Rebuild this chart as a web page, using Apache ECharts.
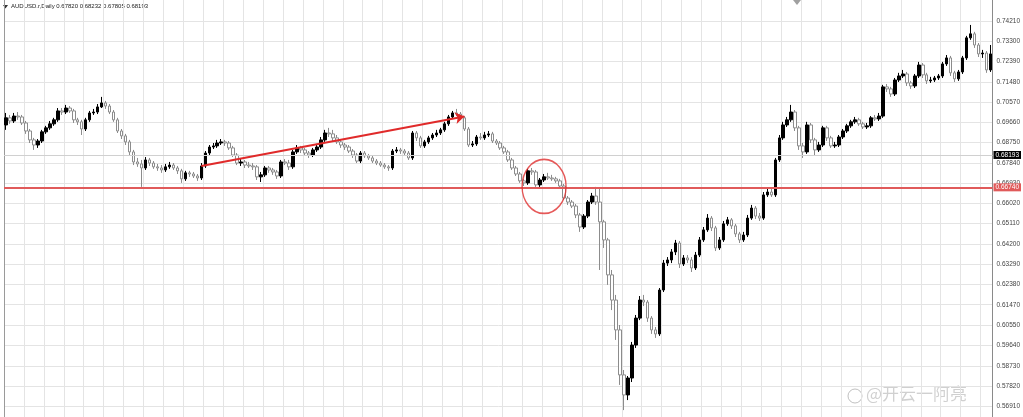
<!DOCTYPE html>
<html><head><meta charset="utf-8">
<script src="https://cdn.jsdelivr.net/npm/echarts@6/dist/echarts.min.js"></script>
<style>html,body{margin:0;padding:0;background:#fff}#c{width:1023px;height:417px}</style>
</head><body><div id="c"></div>
<script>
const chartTitle = 'AUDUSD.r,Daily 0.67820 0.68232 0.67805 0.68193';
const priceTicks = [0.74210,0.73300,0.72390,0.71480,0.70570,0.69660,0.68750,0.67840,0.66930,0.66020,0.65110,0.64200,0.63290,0.62380,0.61470,0.60550,0.59640,0.58730,0.57820,0.56910];
// [open, close, low, high]
const candles = [
[0.6954,0.6986,0.6932,0.7008],[0.6986,0.6972,0.6959,0.6999],[0.6972,0.6994,0.6963,0.7008],[0.6994,0.6990,0.6977,0.7012],
[0.6990,0.6963,0.6954,0.6999],[0.6963,0.6927,0.6914,0.6972],[0.6927,0.6887,0.6873,0.6936],[0.6887,0.6864,0.6842,0.6896],
[0.6864,0.6882,0.6851,0.6891],[0.6882,0.6923,0.6873,0.6932],[0.6923,0.6941,0.6914,0.6950],[0.6941,0.6959,0.6932,0.6972],
[0.6959,0.6977,0.6950,0.6986],[0.6977,0.7017,0.6968,0.7030],[0.7017,0.7012,0.6999,0.7030],[0.7012,0.7030,0.7003,0.7044],
[0.7030,0.7017,0.7008,0.7039],[0.7017,0.6977,0.6963,0.7026],[0.6977,0.6968,0.6954,0.6986],[0.6968,0.6936,0.6909,0.6977],
[0.6936,0.6977,0.6927,0.6986],[0.6977,0.7008,0.6968,0.7017],[0.7008,0.7012,0.6999,0.7026],[0.7012,0.7035,0.7003,0.7048],
[0.7035,0.7053,0.7030,0.7080],[0.7053,0.7039,0.7026,0.7062],[0.7039,0.7012,0.7003,0.7048],[0.7012,0.6977,0.6968,0.7021],
[0.6977,0.6927,0.6918,0.6986],[0.6927,0.6905,0.6891,0.6936],[0.6905,0.6878,0.6864,0.6914],[0.6878,0.6833,0.6819,0.6887],
[0.6833,0.6788,0.6774,0.6842],[0.6788,0.6779,0.6766,0.6806],[0.6779,0.6761,0.6676,0.6797],[0.6761,0.6797,0.6752,0.6810],
[0.6797,0.6783,0.6770,0.6806],[0.6783,0.6766,0.6757,0.6792],[0.6766,0.6761,0.6748,0.6779],[0.6761,0.6752,0.6739,0.6774],
[0.6752,0.6766,0.6743,0.6779],[0.6766,0.6774,0.6757,0.6788],[0.6774,0.6761,0.6752,0.6783],[0.6761,0.6748,0.6734,0.6770],
[0.6748,0.6712,0.6694,0.6757],[0.6712,0.6739,0.6703,0.6748],[0.6739,0.6734,0.6721,0.6748],[0.6734,0.6725,0.6716,0.6743],
[0.6725,0.6716,0.6703,0.6734],[0.6716,0.6770,0.6707,0.6783],[0.6770,0.6828,0.6761,0.6837],[0.6828,0.6855,0.6819,0.6864],
[0.6855,0.6860,0.6846,0.6873],[0.6860,0.6873,0.6851,0.6887],[0.6873,0.6878,0.6864,0.6891],[0.6878,0.6873,0.6860,0.6887],
[0.6873,0.6851,0.6842,0.6882],[0.6851,0.6819,0.6810,0.6860],[0.6819,0.6783,0.6774,0.6828],[0.6783,0.6788,0.6770,0.6801],
[0.6788,0.6774,0.6761,0.6797],[0.6774,0.6770,0.6761,0.6788],[0.6770,0.6766,0.6752,0.6783],[0.6766,0.6721,0.6707,0.6774],
[0.6721,0.6730,0.6698,0.6743],[0.6730,0.6761,0.6721,0.6770],[0.6761,0.6752,0.6739,0.6770],[0.6752,0.6743,0.6730,0.6761],
[0.6743,0.6725,0.6712,0.6752],[0.6725,0.6788,0.6716,0.6797],[0.6788,0.6783,0.6774,0.6801],[0.6783,0.6766,0.6752,0.6797],
[0.6766,0.6833,0.6757,0.6842],[0.6833,0.6851,0.6824,0.6864],[0.6851,0.6842,0.6828,0.6860],[0.6842,0.6828,0.6815,0.6851],
[0.6828,0.6819,0.6806,0.6837],[0.6819,0.6842,0.6810,0.6851],[0.6842,0.6855,0.6833,0.6869],[0.6855,0.6887,0.6846,0.6900],
[0.6887,0.6918,0.6878,0.6932],[0.6918,0.6914,0.6900,0.6941],[0.6914,0.6896,0.6882,0.6932],[0.6896,0.6878,0.6869,0.6909],
[0.6878,0.6864,0.6851,0.6887],[0.6864,0.6855,0.6842,0.6873],[0.6855,0.6837,0.6828,0.6864],[0.6837,0.6819,0.6806,0.6846],
[0.6819,0.6792,0.6783,0.6828],[0.6792,0.6828,0.6783,0.6837],[0.6828,0.6815,0.6806,0.6837],[0.6815,0.6806,0.6797,0.6824],
[0.6806,0.6792,0.6783,0.6815],[0.6792,0.6783,0.6774,0.6801],[0.6783,0.6774,0.6766,0.6792],[0.6774,0.6766,0.6757,0.6783],
[0.6766,0.6761,0.6748,0.6774],[0.6761,0.6837,0.6752,0.6846],[0.6837,0.6842,0.6828,0.6855],[0.6842,0.6837,0.6824,0.6851],
[0.6837,0.6828,0.6815,0.6846],[0.6828,0.6806,0.6797,0.6837],[0.6806,0.6918,0.6797,0.6927],[0.6918,0.6896,0.6882,0.6927],
[0.6896,0.6860,0.6851,0.6905],[0.6860,0.6878,0.6851,0.6887],[0.6878,0.6896,0.6869,0.6905],[0.6896,0.6909,0.6887,0.6918],
[0.6909,0.6918,0.6900,0.6932],[0.6918,0.6932,0.6909,0.6941],[0.6932,0.6959,0.6923,0.6968],[0.6959,0.6990,0.6950,0.6999],
[0.6990,0.7008,0.6981,0.7017],[0.7008,0.7003,0.6994,0.7026],[0.7003,0.6986,0.6977,0.7012],[0.6986,0.6936,0.6927,0.6994],
[0.6936,0.6864,0.6855,0.6945],[0.6864,0.6869,0.6855,0.6882],[0.6869,0.6900,0.6860,0.6909],[0.6900,0.6896,0.6887,0.6918],
[0.6896,0.6909,0.6887,0.6923],[0.6909,0.6914,0.6900,0.6927],[0.6914,0.6882,0.6873,0.6923],[0.6882,0.6873,0.6864,0.6891],
[0.6873,0.6851,0.6842,0.6882],[0.6851,0.6833,0.6824,0.6860],[0.6833,0.6797,0.6788,0.6842],[0.6797,0.6761,0.6752,0.6806],
[0.6761,0.6734,0.6725,0.6770],[0.6734,0.6703,0.6694,0.6743],[0.6703,0.6694,0.6680,0.6712],[0.6694,0.6748,0.6685,0.6757],
[0.6748,0.6743,0.6730,0.6761],[0.6743,0.6685,0.6676,0.6752],[0.6685,0.6707,0.6676,0.6716],[0.6707,0.6721,0.6698,0.6734],
[0.6721,0.6716,0.6707,0.6739],[0.6716,0.6712,0.6703,0.6730],[0.6712,0.6703,0.6694,0.6721],[0.6703,0.6680,0.6671,0.6712],
[0.6680,0.6626,0.6617,0.6689],[0.6626,0.6608,0.6595,0.6635],[0.6608,0.6590,0.6581,0.6617],[0.6590,0.6550,0.6536,0.6599],
[0.6550,0.6496,0.6474,0.6559],[0.6496,0.6545,0.6487,0.6554],[0.6545,0.6608,0.6536,0.6617],[0.6608,0.6635,0.6599,0.6649],
[0.6635,0.6608,0.6595,0.6676],[0.6608,0.6519,0.6303,0.6671],[0.6519,0.6438,0.6402,0.6528],[0.6438,0.6281,0.6236,0.6447],
[0.6281,0.6168,0.6123,0.6303],[0.6168,0.6034,0.5989,0.6191],[0.6034,0.5832,0.5787,0.6056],[0.5832,0.5742,0.5674,0.5854],
[0.5742,0.5818,0.5719,0.5827],[0.5818,0.5966,0.5800,0.5980],[0.5966,0.6087,0.5953,0.6101],[0.6087,0.6168,0.6078,0.6186],
[0.6168,0.6159,0.6141,0.6191],[0.6159,0.6087,0.6070,0.6168],[0.6087,0.6034,0.6016,0.6096],[0.6034,0.6016,0.5998,0.6047],
[0.6016,0.6213,0.6007,0.6222],[0.6213,0.6334,0.6204,0.6348],[0.6334,0.6348,0.6321,0.6361],[0.6348,0.6384,0.6334,0.6397],
[0.6384,0.6424,0.6370,0.6438],[0.6424,0.6330,0.6312,0.6433],[0.6330,0.6357,0.6321,0.6370],[0.6357,0.6348,0.6334,0.6370],
[0.6348,0.6312,0.6294,0.6361],[0.6312,0.6370,0.6303,0.6384],[0.6370,0.6438,0.6361,0.6451],[0.6438,0.6483,0.6429,0.6496],
[0.6483,0.6536,0.6474,0.6554],[0.6536,0.6492,0.6478,0.6545],[0.6492,0.6402,0.6388,0.6501],[0.6402,0.6438,0.6393,0.6451],
[0.6438,0.6510,0.6429,0.6523],[0.6510,0.6528,0.6501,0.6541],[0.6528,0.6501,0.6487,0.6536],[0.6501,0.6465,0.6451,0.6510],
[0.6465,0.6438,0.6424,0.6474],[0.6438,0.6460,0.6429,0.6474],[0.6460,0.6536,0.6451,0.6550],[0.6536,0.6581,0.6528,0.6595],
[0.6581,0.6545,0.6532,0.6590],[0.6545,0.6536,0.6523,0.6559],[0.6536,0.6640,0.6528,0.6653],[0.6640,0.6653,0.6631,0.6671],
[0.6653,0.6640,0.6631,0.6671],[0.6640,0.6797,0.6631,0.6806],[0.6797,0.6896,0.6788,0.6909],[0.6896,0.6954,0.6887,0.6968],
[0.6954,0.6977,0.6945,0.6990],[0.6977,0.7012,0.6968,0.7044],[0.7012,0.6941,0.6927,0.7021],[0.6941,0.6860,0.6842,0.6950],
[0.6860,0.6833,0.6806,0.6873],[0.6833,0.6954,0.6824,0.6968],[0.6954,0.6887,0.6873,0.6963],[0.6887,0.6842,0.6819,0.6896],
[0.6842,0.6864,0.6833,0.6878],[0.6864,0.6941,0.6855,0.6950],[0.6941,0.6896,0.6882,0.6950],[0.6896,0.6860,0.6851,0.6905],
[0.6860,0.6864,0.6851,0.6878],[0.6864,0.6900,0.6855,0.6909],[0.6900,0.6927,0.6891,0.6936],[0.6927,0.6950,0.6918,0.6959],
[0.6950,0.6968,0.6941,0.6977],[0.6968,0.6977,0.6959,0.6990],[0.6977,0.6959,0.6950,0.6986],[0.6959,0.6945,0.6936,0.6968],
[0.6945,0.6950,0.6936,0.6963],[0.6950,0.6986,0.6941,0.6994],[0.6986,0.6981,0.6972,0.6999],[0.6981,0.6994,0.6972,0.7008],
[0.6994,0.7125,0.6986,0.7134],[0.7125,0.7116,0.7102,0.7138],[0.7116,0.7093,0.7080,0.7125],[0.7093,0.7156,0.7084,0.7165],
[0.7156,0.7174,0.7147,0.7188],[0.7174,0.7183,0.7165,0.7201],[0.7183,0.7143,0.7129,0.7192],[0.7143,0.7129,0.7116,0.7152],
[0.7129,0.7174,0.7120,0.7183],[0.7174,0.7223,0.7165,0.7237],[0.7223,0.7179,0.7165,0.7232],[0.7179,0.7152,0.7138,0.7188],
[0.7152,0.7156,0.7143,0.7170],[0.7156,0.7165,0.7147,0.7174],[0.7165,0.7174,0.7156,0.7183],[0.7174,0.7228,0.7165,0.7237],
[0.7228,0.7255,0.7219,0.7268],[0.7255,0.7188,0.7174,0.7264],[0.7188,0.7161,0.7147,0.7197],[0.7161,0.7192,0.7152,0.7201],
[0.7192,0.7255,0.7183,0.7264],[0.7255,0.7345,0.7246,0.7354],[0.7345,0.7363,0.7336,0.7403],[0.7363,0.7313,0.7300,0.7372],
[0.7313,0.7273,0.7259,0.7322],[0.7273,0.7277,0.7255,0.7291],[0.7277,0.7201,0.7188,0.7286],[0.7201,0.7273,0.7192,0.7313]
];
const categories = candles.map((d, i) => 'D' + (i + 1));
const levelPrice = 0.66740;
const bidPrice = 0.68193;
const trendStart = [49, 0.6770];
const trendEnd = [115, 0.6992];
const circleMark = [135, 0.6678];

const chart = echarts.init(document.getElementById('c'), null, {renderer: 'canvas'});
const axisFont = 'Liberation Sans';
chart.setOption({
  animation: false,
  backgroundColor: '#ffffff',
  grid: {left: 4, right: 27, top: 0, bottom: 0},
  xAxis: {
    type: 'category', data: categories, boundaryGap: true,
    axisLine: {show: false}, axisTick: {show: false}, axisLabel: {show: false},
    splitLine: {show: true, interval: 4, lineStyle: {color: '#e4e4e4', width: 1}}
  },
  yAxis: [{
    type: 'value', position: 'right', min: 0.5643, max: 0.7515, scale: true,
    axisLine: {show: true, lineStyle: {color: '#8a8a8a', width: 1}},
    axisTick: {show: false, customValues: priceTicks},
    axisLabel: {customValues: priceTicks, formatter: v => v.toFixed(5), fontSize: 6.5, color: '#444', margin: 4, fontFamily: axisFont},
    splitLine: {show: true, lineStyle: {color: '#e4e4e4', width: 1}}
  }, {
    type: 'value', position: 'left', min: 0.5643, max: 0.7515, scale: true,
    axisLine: {show: true, lineStyle: {color: '#9a9a9a', width: 1}},
    axisTick: {show: false}, axisLabel: {show: false}, splitLine: {show: false}
  }],
  series: [{
    type: 'candlestick', data: candles, barWidth: 3,
    itemStyle: {color: '#000000', color0: '#ffffff', borderColor: '#000000', borderColor0: '#8c8c8c', borderWidth: 1},
    markLine: {
      silent: true, animation: false, symbol: ['none', 'none'], precision: 5,
      data: [
        {yAxis: bidPrice, lineStyle: {color: '#d0d0d0', width: 1, type: 'solid'},
         label: {show: true, position: 'end', distance: 1, formatter: bidPrice.toFixed(5), color: '#fff', backgroundColor: '#000', padding: [1, 2, 0, 2], fontSize: 6.5, fontFamily: axisFont}},
        {yAxis: levelPrice, lineStyle: {color: '#e05a5a', width: 2, type: 'solid'},
         label: {show: true, position: 'end', distance: 1, formatter: levelPrice.toFixed(5), color: '#fff', backgroundColor: '#e05a5a', padding: [1, 2, 0, 2], fontSize: 6.5, fontFamily: axisFont}},
        [{coord: trendStart, symbol: 'none', lineStyle: {color: '#e02a2a', width: 2, type: 'solid'}, label: {show: false}},
         {coord: trendEnd, symbol: 'arrow', symbolSize: 9}]
      ]
    }
  }, {
    type: 'scatter', data: [circleMark], symbol: 'circle', symbolSize: [44, 54], silent: true,
    itemStyle: {color: 'rgba(0,0,0,0)', borderColor: '#e03030', borderWidth: 1.5}, z: 5
  }],
  graphic: [
    {type: 'polygon', shape: {points: [[3, 5], [8, 5], [5.5, 8.5]]}, style: {fill: '#333'}},
    {type: 'text', left: 11, top: 3, style: {text: chartTitle, font: '6px "Liberation Sans"', fill: '#222'}},
    {type: 'polygon', shape: {points: [[793, 0], [801, 0], [797, 5]]}, style: {fill: '#a0a0a0'}},
    {type: 'circle', shape: {cx: 855, cy: 396, r: 7}, style: {fill: 'none', stroke: 'rgba(150,150,150,0.6)', lineWidth: 1}},
    {type: 'text', left: 866, top: 385, style: {text: '@开云一阿亮', font: '17px "Noto Sans CJK SC"', fill: 'rgba(150,150,150,0.45)'}}
  ]
});
</script></body></html>
